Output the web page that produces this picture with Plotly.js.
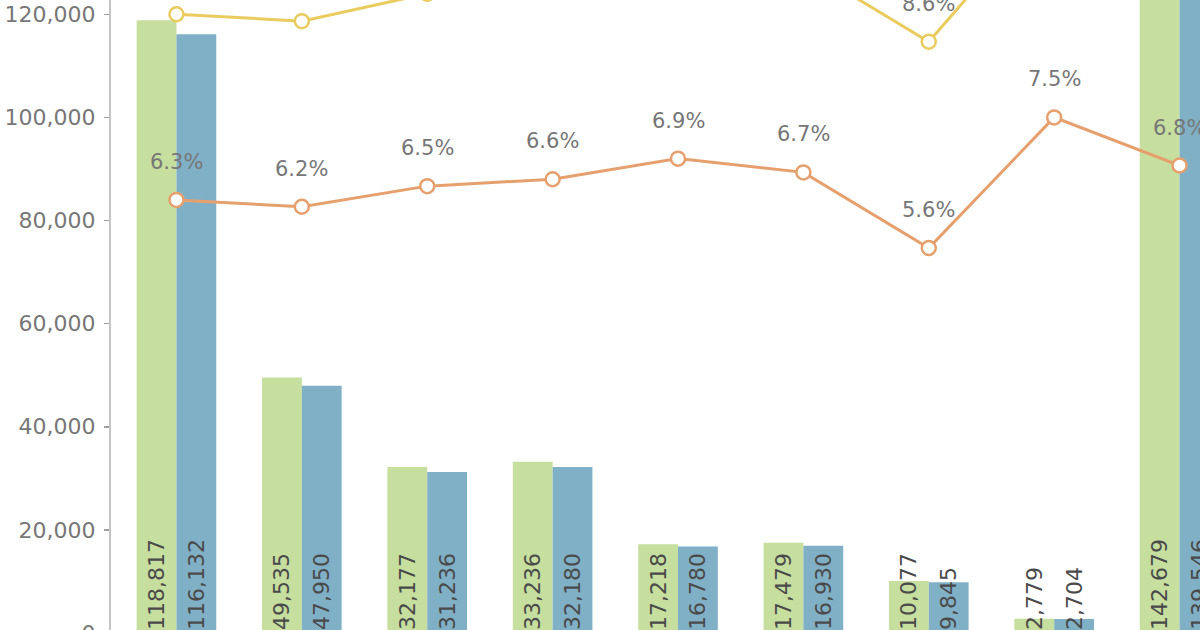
<!DOCTYPE html>
<html>
<head>
<meta charset="utf-8">
<script src="https://cdn.plot.ly/plotly-3.0.1.min.js"></script>
<style>
  html, body { margin: 0; padding: 0; width: 1200px; height: 630px; overflow: hidden; background: #fff; }
  #chart { position: absolute; left: 0; top: -200px; width: 1300px; height: 893px; }
</style>
</head>
<body>
<div id="chart"></div>
<script>
// Categories (their names lie outside the visible crop)
const categories = ['C1', 'C2', 'C3', 'C4', 'C5', 'C6', 'C7', 'C8', 'C9'];

// Bar series (left axis)
const seriesGreen = [118817, 49535, 32177, 33236, 17218, 17479, 10077, 2779, 142679];
const seriesBlue  = [116132, 47950, 31236, 32180, 16780, 16930, 9845, 2704, 139546];

// Line series (right axis, percent)
const rateOrange = [6.3, 6.2, 6.5, 6.6, 6.9, 6.7, 5.6, 7.5, 6.8];
const rateYellow = [9.0, 8.9, 9.3, 9.6, 9.9, 9.7, 8.6, 10.7, 10.2];

// Left axis ticks
const yTicks = [0, 20000, 40000, 60000, 80000, 100000, 120000, 140000, 160000];

const FONT = 'DejaVu Sans, Verdana, sans-serif';

const barText = {family: FONT, size: 22, color: '#4a4a4a'};

const traces = [
  {
    type: 'bar', x: categories, y: seriesGreen, name: 'A',
    marker: {color: '#C6DE9E'},
    texttemplate: '%{y:,}', textposition: 'inside', insidetextanchor: 'start',
    textangle: -90, constraintext: 'none', textfont: barText, insidetextfont: barText,
    cliponaxis: false, hoverinfo: 'skip'
  },
  {
    type: 'bar', x: categories, y: seriesBlue, name: 'B',
    marker: {color: '#80B0C6'},
    texttemplate: '%{y:,}', textposition: 'inside', insidetextanchor: 'start',
    textangle: -90, constraintext: 'none', textfont: barText, insidetextfont: barText,
    cliponaxis: false, hoverinfo: 'skip'
  },
  {
    type: 'scatter', mode: 'lines+markers', x: categories, y: rateOrange, yaxis: 'y2',
    line: {color: '#E6A06E', width: 3},
    marker: {symbol: 'circle', size: 14, color: '#ffffff', line: {color: '#E6A06E', width: 2.5}},
    cliponaxis: false, hoverinfo: 'skip'
  },
  {
    type: 'scatter', mode: 'lines+markers', x: categories, y: rateYellow, yaxis: 'y2',
    line: {color: '#EACB5E', width: 3},
    marker: {symbol: 'circle', size: 14, color: '#ffffff', line: {color: '#EACB5E', width: 2.5}},
    cliponaxis: false, hoverinfo: 'skip'
  }
];

const pctFont = {family: FONT, size: 21, color: '#777777'};
const annotations = [];
[rateOrange, rateYellow].forEach(series => {
  series.forEach((v, i) => {
    annotations.push({
      x: categories[i], y: v, xref: 'x', yref: 'y2',
      text: v.toFixed(1) + '%', showarrow: false, yshift: 38, font: pctFont
    });
  });
});

const layout = {
  width: 1300, height: 893,
  margin: {l: 111, r: 55, t: 8, b: 60},
  paper_bgcolor: '#ffffff', plot_bgcolor: '#ffffff',
  showlegend: false,
  barmode: 'group', bargap: 0.365, bargroupgap: 0,
  xaxis: {
    type: 'category', showticklabels: false, showline: false, ticks: '',
    showgrid: false, zeroline: false, fixedrange: true
  },
  yaxis: {
    range: [0, 160000], tickvals: yTicks, tickformat: ',d',
    showline: true, linecolor: '#c4c4c4', linewidth: 2,
    ticks: 'outside', ticklen: 5, tickcolor: '#a0a0a0', tickwidth: 1.5,
    ticklabelstandoff: 4,
    showgrid: false, zeroline: false,
    tickfont: {family: FONT, size: 22, color: '#777777'}
  },
  yaxis2: {
    range: [0, 12], overlaying: 'y', side: 'right',
    showticklabels: false, showline: false, ticks: '', showgrid: false, zeroline: false
  },
  annotations: annotations
};

Plotly.newPlot('chart', traces, layout, {displayModeBar: false, staticPlot: true});
</script>
</body>
</html>
